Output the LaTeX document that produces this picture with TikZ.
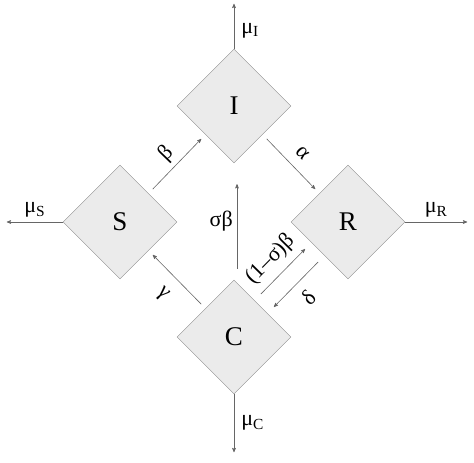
\documentclass[tikz,border=0pt]{standalone}
\usepackage{fontspec}
\setmainfont{Liberation Serif}
\usetikzlibrary{shapes,arrows,positioning}

\begin{document}
\begin{tikzpicture}[x=1pt, y=1pt, node distance = 116pt and 114pt, on grid, ->, >=stealth']
    \tikzset{compartment/.style={draw=black!45,fill=black!8,diamond,minimum width=114pt,minimum height=114pt,inner sep=0pt,font=\fontsize{27}{29}\selectfont},
             rate/.style={draw=black!60,line width=0.6pt},
             lbl/.style={font=\fontsize{22}{24}\selectfont,inner sep=4pt}}
    \useasboundingbox (-234,106) rectangle (240,-357);
    \node[compartment] (I) at (0,0)             {I};
    \node[compartment] (S) [below left=of I]    {S};
    \node[compartment] (R) [below right=of I]   {R};
    \node[compartment] (C) [below=231pt of I]   {C};
    % free ends of the outflows
    \coordinate (muI) at ([yshift=45pt]I.north);
    \coordinate (muS) at ([xshift=-56pt]S.west);
    \coordinate (muR) at ([xshift=62pt]R.east);
    \coordinate (muC) at ([yshift=-58pt]C.south);
    \path (I.north) edge [rate] node[lbl,right=3pt,pos=0.4] {μ\textsubscript{I}} (muI)
          (S.west)  edge [rate] node[lbl,above] {μ\textsubscript{S}} (muS)
          (R.east)  edge [rate] node[lbl,above] {μ\textsubscript{R}} (muR)
          (C.south) edge [rate] node[lbl,right=3pt] {μ\textsubscript{C}} (muC);
    \path (S.north east) edge [rate,shorten <=6pt,shorten >=6pt] node[lbl,above,sloped] {β} (I.south west)
          (I.south east) edge [rate,shorten <=6pt,shorten >=6pt] node[lbl,above=6pt,sloped] {α} (R.north west)
          (C.north west) edge [rate,shorten <=6pt,shorten >=6pt] node[lbl,below=9pt,sloped] {γ} (S.south east)
          ([xshift=3pt]C.north) edge [rate,shorten <=11pt,shorten >=21pt] node[lbl,left] {σβ} ([xshift=3pt]I.south)
          ([xshift=-8pt,yshift=8pt]C.north east) edge [rate,shorten <=9pt,shorten >=9pt] node[lbl,above=3pt,sloped] {(1–σ)β} ([xshift=-8pt,yshift=8pt]R.south west)
          ([xshift=5pt,yshift=-5pt]R.south west) edge [rate,shorten <=9pt,shorten >=9pt] node[lbl,below=6pt,sloped] {δ} ([xshift=5pt,yshift=-5pt]C.north east);
\end{tikzpicture}
\end{document}
